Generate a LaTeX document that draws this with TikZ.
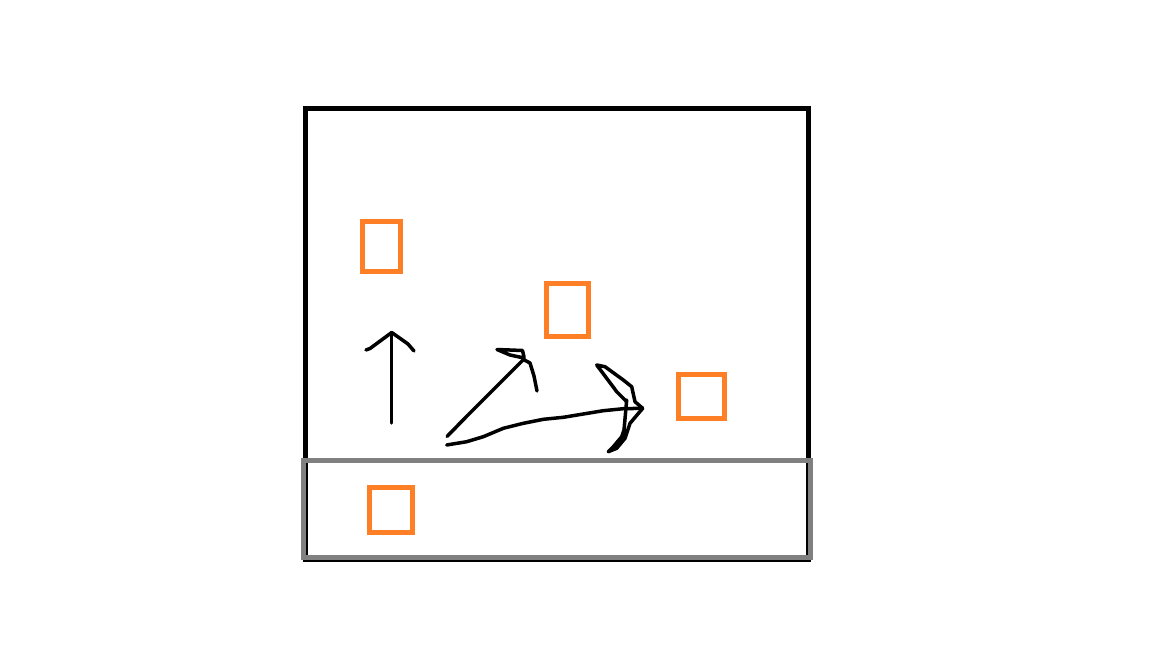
\documentclass[tikz,border=0pt]{standalone}
\definecolor{boxorange}{RGB}{255,127,39}
\definecolor{framegray}{RGB}{128,128,128}
\begin{document}
\begin{tikzpicture}[x=1pt,y=-1pt,
  frame/.style={draw=black,line width=4.4pt},
  zone/.style={draw=framegray,line width=5pt},
  item/.style={draw=boxorange,line width=5pt,rectangle,inner sep=0pt,fill=none},
  stroke/.style={draw=black,line width=3.5pt,line cap=round,line join=round}]
\useasboundingbox (0,0) rectangle (1152,648);
% outer frame and bottom zone
\draw[frame] (305.5,108.3) rectangle (808.3,559.5);
\draw[zone] (303.2,460) rectangle (810,557.5);
% orange boxes
\node[item,minimum width=38.3pt,minimum height=50pt] (b1) at (381.6,246.5) {};
\node[item,minimum width=42.4pt,minimum height=53pt] (b2) at (567.5,310) {};
\node[item,minimum width=46.3pt,minimum height=44.5pt] (b3) at (701.6,396.5) {};
\node[item,minimum width=42.5pt,minimum height=45.6pt] (b4) at (391.2,510) {};
% vertical arrow
\coordinate (v0) at (391.7,423);
\coordinate (v1) at (391.7,332.5);
\draw[stroke] (v0) -- (v1);
\draw[stroke] (366,350) -- (370,348.5) -- (v1) -- (401,339) -- (408,344) -- (414,351);
% diagonal arrow
\coordinate (d0) at (447,436.5);
\coordinate (d1) at (523.5,359.5);
\draw[stroke] (d0) -- (466,417) -- (483,400) -- (500,383) -- (d1);
\draw[stroke] (537,391) -- (534,376) -- (530,363) -- (d1) -- (524,357) -- (522.5,350.5) -- (497,349.5) -- (510,355) -- (524,358);
% long arrow
\coordinate (h0) at (446.7,445);
\coordinate (h1) at (642.7,408.3);
\draw[stroke] (h0) -- (466.7,441.7) -- (483.3,436.7) -- (503.3,428.3) -- (523.3,423.3) -- (543.3,419.3) -- (563.3,417.3) -- (583.3,414) -- (603.3,410.7) -- (623.3,408.7) -- (h1);
\draw[stroke] (h1) -- (635,401.7) -- (631.7,386.7) -- (623.3,380) -- (605,366.7) -- (596.7,365) -- (606.7,378.3) -- (616.7,391.7) -- (626.7,401.7);
\draw[stroke] (h1) -- (630,423.3) -- (625,438.3) -- (616.7,448.3) -- (608.3,451.7) -- (613.3,446.7) -- (621.7,436.7) -- (624,430) -- (626.7,400);
\end{tikzpicture}
\end{document}
